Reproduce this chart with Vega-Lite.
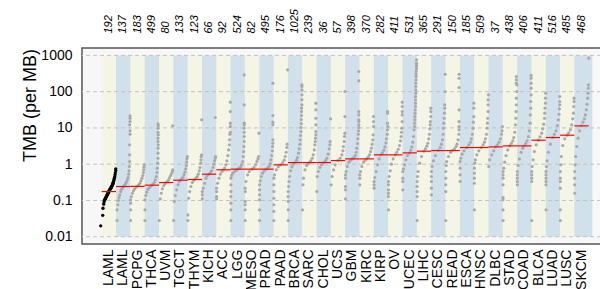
{
"$schema":"https://vega.github.io/schema/vega-lite/v6.json",
"width":526,"height":196,
"autosize":{"type":"none"},
"padding":{"left":82,"top":48,"right":-8,"bottom":45},
"background":"white",
"config":{"view":{"fill":"#f7f7f7","stroke":"#555555","strokeWidth":1.5},"font":"Liberation Sans"},
"datasets":{
"groups":[
{"g":0,"k":"LAML|192","m":0.176},{"g":1,"k":"LAML|137","m":0.242},{"g":2,"k":"PCPG|183","m":0.245},{"g":3,"k":"THCA|499","m":0.264},{"g":4,"k":"UVM|80","m":0.312},{"g":5,"k":"TGCT|133","m":0.362},{"g":6,"k":"THYM|123","m":0.378},{"g":7,"k":"KICH|66","m":0.53},{"g":8,"k":"ACC|92","m":0.70},{"g":9,"k":"LGG|524","m":0.73},{"g":10,"k":"MESO|82","m":0.73},{"g":11,"k":"PRAD|495","m":0.73},{"g":12,"k":"PAAD|176","m":0.958},{"g":13,"k":"BRCA|1025","m":1.11},{"g":14,"k":"SARC|239","m":1.11},{"g":15,"k":"CHOL|36","m":1.11},{"g":16,"k":"UCS|57","m":1.26},{"g":17,"k":"GBM|398","m":1.40},{"g":18,"k":"KIRC|370","m":1.40},{"g":19,"k":"KIRP|282","m":1.81},{"g":20,"k":"OV|411","m":1.81},{"g":21,"k":"UCEC|531","m":2.05},{"g":22,"k":"LIHC|365","m":2.28},{"g":23,"k":"CESC|291","m":2.38},{"g":24,"k":"READ|150","m":2.38},{"g":25,"k":"ESCA|185","m":2.88},{"g":26,"k":"HNSC|509","m":2.88},{"g":27,"k":"DLBC|37","m":3.0},{"g":28,"k":"STAD|438","m":3.2},{"g":29,"k":"COAD|406","m":3.2},{"g":30,"k":"BLCA|411","m":4.59},{"g":31,"k":"LUAD|516","m":5.44},{"g":32,"k":"LUSC|485","m":6.31},{"g":33,"k":"SKCM|468","m":11.4}
],
"decades":[{"t":0.01},{"t":0.1},{"t":1},{"t":10},{"t":100},{"t":1000}],
"points":[
{"g":0,"f":-0.07,"v":0.020},{"g":0,"f":0.07,"v":0.039},{"g":0,"f":0.09,"v":0.061},{"g":0,"f":0.14,"v":0.079},{"g":0,"f":0.16,"v":0.090},{"g":0,"f":0.19,"v":0.100},{"g":0,"f":0.21,"v":0.104},{"g":0,"f":0.23,"v":0.108},{"g":0,"f":0.26,"v":0.113},{"g":0,"f":0.28,"v":0.118},{"g":0,"f":0.30,"v":0.123},{"g":0,"f":0.33,"v":0.128},{"g":0,"f":0.35,"v":0.134},{"g":0,"f":0.37,"v":0.140},{"g":0,"f":0.40,"v":0.146},{"g":0,"f":0.42,"v":0.152},{"g":0,"f":0.44,"v":0.158},{"g":0,"f":0.47,"v":0.165},{"g":0,"f":0.49,"v":0.173},{"g":0,"f":0.51,"v":0.180},{"g":0,"f":0.53,"v":0.188},{"g":0,"f":0.56,"v":0.196},{"g":0,"f":0.58,"v":0.205},{"g":0,"f":0.60,"v":0.209},{"g":0,"f":0.63,"v":0.218},{"g":0,"f":0.65,"v":0.228},{"g":0,"f":0.67,"v":0.232},{"g":0,"f":0.70,"v":0.242},{"g":0,"f":0.72,"v":0.253},{"g":0,"f":0.74,"v":0.264},{"g":0,"f":0.77,"v":0.281},{"g":0,"f":0.79,"v":0.299},{"g":0,"f":0.81,"v":0.319},{"g":0,"f":0.84,"v":0.347},{"g":0,"f":0.86,"v":0.370},{"g":0,"f":0.88,"v":0.411},{"g":0,"f":0.91,"v":0.448},{"g":0,"f":0.93,"v":0.508},{"g":0,"f":0.95,"v":0.577},{"g":0,"f":0.98,"v":0.669},{"g":0,"f":0.98,"v":0.744},
{"g":1,"f":0.07,"v":0.028},{"g":1,"f":0.07,"v":0.055},{"g":1,"f":0.12,"v":0.076},{"g":1,"f":0.16,"v":0.100},{"g":1,"f":0.21,"v":0.120},{"g":1,"f":0.26,"v":0.143},{"g":1,"f":0.33,"v":0.176},{"g":1,"f":0.40,"v":0.205},{"g":1,"f":0.47,"v":0.228},{"g":1,"f":0.51,"v":0.242},{"g":1,"f":0.58,"v":0.258},{"g":1,"f":0.65,"v":0.281},{"g":1,"f":0.72,"v":0.319},{"g":1,"f":0.79,"v":0.370},{"g":1,"f":0.84,"v":0.429},{"g":1,"f":0.88,"v":0.530},{"g":1,"f":0.91,"v":0.655},{"g":1,"f":0.93,"v":0.863},{"g":1,"f":0.95,"v":1.18},{"g":1,"f":0.95,"v":1.81},{"g":1,"f":0.95,"v":3.41},{"g":1,"f":0.98,"v":6.71},{"g":1,"f":0.98,"v":8.30},{"g":1,"f":0.95,"v":12.2},{"g":1,"f":0.98,"v":15.0},{"g":1,"f":0.98,"v":18.5},{"g":1,"f":0.98,"v":21.5},
{"g":2,"f":0.02,"v":0.028},{"g":2,"f":0.02,"v":0.055},{"g":2,"f":0.02,"v":0.084},{"g":2,"f":0.02,"v":0.104},{"g":2,"f":0.07,"v":0.128},{"g":2,"f":0.14,"v":0.158},{"g":2,"f":0.21,"v":0.184},{"g":2,"f":0.30,"v":0.209},{"g":2,"f":0.40,"v":0.232},{"g":2,"f":0.49,"v":0.247},{"g":2,"f":0.58,"v":0.269},{"g":2,"f":0.67,"v":0.299},{"g":2,"f":0.74,"v":0.347},{"g":2,"f":0.81,"v":0.411},{"g":2,"f":0.86,"v":0.487},{"g":2,"f":0.91,"v":0.589},{"g":2,"f":0.93,"v":0.70},{"g":2,"f":0.95,"v":0.827},{"g":2,"f":0.98,"v":0.958},
{"g":3,"f":0.02,"v":0.028},{"g":3,"f":0.02,"v":0.055},{"g":3,"f":0.02,"v":0.104},{"g":3,"f":0.07,"v":0.137},{"g":3,"f":0.14,"v":0.169},{"g":3,"f":0.23,"v":0.205},{"g":3,"f":0.33,"v":0.228},{"g":3,"f":0.42,"v":0.247},{"g":3,"f":0.49,"v":0.264},{"g":3,"f":0.58,"v":0.281},{"g":3,"f":0.67,"v":0.312},{"g":3,"f":0.74,"v":0.370},{"g":3,"f":0.81,"v":0.457},{"g":3,"f":0.86,"v":0.589},{"g":3,"f":0.88,"v":0.776},{"g":3,"f":0.91,"v":1.07},{"g":3,"f":0.93,"v":1.46},{"g":3,"f":0.93,"v":2.01},{"g":3,"f":0.93,"v":2.76},{"g":3,"f":0.95,"v":3.41},{"g":3,"f":0.93,"v":4.22},{"g":3,"f":0.93,"v":5.21},{"g":3,"f":0.95,"v":6.44},{"g":3,"f":0.93,"v":7.62},{"g":3,"f":0.93,"v":9.84},{"g":3,"f":0.95,"v":11.6},{"g":3,"f":0.93,"v":12.9},
{"g":4,"f":0.02,"v":0.028},{"g":4,"f":0.09,"v":0.111},{"g":4,"f":0.16,"v":0.158},{"g":4,"f":0.23,"v":0.209},{"g":4,"f":0.33,"v":0.258},{"g":4,"f":0.42,"v":0.293},{"g":4,"f":0.49,"v":0.312},{"g":4,"f":0.58,"v":0.333},{"g":4,"f":0.67,"v":0.370},{"g":4,"f":0.74,"v":0.429},{"g":4,"f":0.81,"v":0.487},{"g":4,"f":0.88,"v":0.553},{"g":4,"f":0.93,"v":0.628},{"g":4,"f":0.95,"v":0.70},{"g":4,"f":0.95,"v":11.4},
{"g":5,"f":0.02,"v":0.028},{"g":5,"f":0.07,"v":0.094},{"g":5,"f":0.14,"v":0.137},{"g":5,"f":0.23,"v":0.196},{"g":5,"f":0.33,"v":0.269},{"g":5,"f":0.42,"v":0.333},{"g":5,"f":0.49,"v":0.362},{"g":5,"f":0.58,"v":0.394},{"g":5,"f":0.67,"v":0.429},{"g":5,"f":0.74,"v":0.508},{"g":5,"f":0.81,"v":0.602},{"g":5,"f":0.86,"v":0.744},{"g":5,"f":0.91,"v":0.919},{"g":5,"f":0.93,"v":1.14},{"g":5,"f":0.95,"v":1.40},{"g":5,"f":0.98,"v":1.63},
{"g":6,"f":0.02,"v":0.028},{"g":6,"f":0.02,"v":0.040},{"g":6,"f":0.07,"v":0.115},{"g":6,"f":0.14,"v":0.176},{"g":6,"f":0.23,"v":0.242},{"g":6,"f":0.33,"v":0.312},{"g":6,"f":0.42,"v":0.355},{"g":6,"f":0.49,"v":0.378},{"g":6,"f":0.58,"v":0.411},{"g":6,"f":0.67,"v":0.457},{"g":6,"f":0.74,"v":0.530},{"g":6,"f":0.81,"v":0.655},{"g":6,"f":0.86,"v":0.809},{"g":6,"f":0.91,"v":1.07},{"g":6,"f":0.93,"v":1.32},{"g":6,"f":0.95,"v":1.63},{"g":6,"f":0.98,"v":1.81},{"g":6,"f":0.98,"v":16.7},
{"g":7,"f":0.02,"v":0.111},{"g":7,"f":0.02,"v":0.143},{"g":7,"f":0.02,"v":0.176},{"g":7,"f":0.09,"v":0.218},{"g":7,"f":0.19,"v":0.299},{"g":7,"f":0.28,"v":0.411},{"g":7,"f":0.37,"v":0.487},{"g":7,"f":0.49,"v":0.530},{"g":7,"f":0.58,"v":0.577},{"g":7,"f":0.67,"v":0.655},{"g":7,"f":0.77,"v":0.809},{"g":7,"f":0.84,"v":1.0},{"g":7,"f":0.88,"v":1.24},{"g":7,"f":0.93,"v":1.46},{"g":7,"f":0.95,"v":1.63},{"g":7,"f":0.93,"v":19.4},
{"g":8,"f":0.02,"v":0.111},{"g":8,"f":0.02,"v":0.128},{"g":8,"f":0.02,"v":0.176},{"g":8,"f":0.02,"v":0.218},{"g":8,"f":0.09,"v":0.299},{"g":8,"f":0.19,"v":0.411},{"g":8,"f":0.28,"v":0.530},{"g":8,"f":0.40,"v":0.628},{"g":8,"f":0.49,"v":0.70},{"g":8,"f":0.58,"v":0.776},{"g":8,"f":0.67,"v":0.958},{"g":8,"f":0.74,"v":1.24},{"g":8,"f":0.81,"v":1.73},{"g":8,"f":0.86,"v":2.48},{"g":8,"f":0.91,"v":3.41},{"g":8,"f":0.93,"v":4.69},{"g":8,"f":0.95,"v":6.71},{"g":8,"f":0.98,"v":7.62},{"g":8,"f":0.98,"v":10.9},{"g":8,"f":0.98,"v":13.5},{"g":8,"f":0.98,"v":28.3},{"g":8,"f":0.98,"v":51.3},
{"g":9,"f":0.02,"v":0.028},{"g":9,"f":0.02,"v":0.055},{"g":9,"f":0.02,"v":0.084},{"g":9,"f":0.02,"v":0.128},{"g":9,"f":0.02,"v":0.176},{"g":9,"f":0.02,"v":0.269},{"g":9,"f":0.02,"v":0.411},{"g":9,"f":0.07,"v":0.487},{"g":9,"f":0.16,"v":0.565},{"g":9,"f":0.28,"v":0.628},{"g":9,"f":0.40,"v":0.684},{"g":9,"f":0.49,"v":0.73},{"g":9,"f":0.60,"v":0.776},{"g":9,"f":0.70,"v":0.844},{"g":9,"f":0.77,"v":0.958},{"g":9,"f":0.84,"v":1.18},{"g":9,"f":0.88,"v":1.63},{"g":9,"f":0.91,"v":2.23},{"g":9,"f":0.93,"v":3.07},{"g":9,"f":0.95,"v":4.22},{"g":9,"f":0.95,"v":5.79},{"g":9,"f":0.95,"v":7.62},{"g":9,"f":0.95,"v":9.84},{"g":9,"f":0.95,"v":12.2},{"g":9,"f":0.95,"v":13.5},{"g":9,"f":0.95,"v":43.3},{"g":9,"f":0.95,"v":290},
{"g":10,"f":0.02,"v":0.028},{"g":10,"f":0.02,"v":0.055},{"g":10,"f":0.02,"v":0.076},{"g":10,"f":0.02,"v":0.094},{"g":10,"f":0.02,"v":0.176},{"g":10,"f":0.02,"v":0.218},{"g":10,"f":0.07,"v":0.333},{"g":10,"f":0.19,"v":0.508},{"g":10,"f":0.30,"v":0.628},{"g":10,"f":0.49,"v":0.73},{"g":10,"f":0.63,"v":0.809},{"g":10,"f":0.74,"v":0.958},{"g":10,"f":0.84,"v":1.18},{"g":10,"f":0.91,"v":1.40},{"g":10,"f":0.95,"v":1.63},{"g":10,"f":0.98,"v":7.16},
{"g":11,"f":0.02,"v":0.028},{"g":11,"f":0.02,"v":0.055},{"g":11,"f":0.02,"v":0.104},{"g":11,"f":0.02,"v":0.143},{"g":11,"f":0.02,"v":0.196},{"g":11,"f":0.02,"v":0.269},{"g":11,"f":0.07,"v":0.347},{"g":11,"f":0.14,"v":0.457},{"g":11,"f":0.23,"v":0.565},{"g":11,"f":0.35,"v":0.655},{"g":11,"f":0.49,"v":0.73},{"g":11,"f":0.60,"v":0.792},{"g":11,"f":0.70,"v":0.881},{"g":11,"f":0.77,"v":1.04},{"g":11,"f":0.81,"v":1.32},{"g":11,"f":0.86,"v":1.73},{"g":11,"f":0.91,"v":2.33},{"g":11,"f":0.93,"v":3.07},{"g":11,"f":0.95,"v":3.79},{"g":11,"f":0.95,"v":4.69},{"g":11,"f":0.95,"v":12.2},{"g":11,"f":0.95,"v":14.4},{"g":11,"f":0.95,"v":22.0},{"g":11,"f":0.95,"v":171},
{"g":12,"f":0.02,"v":0.028},{"g":12,"f":0.02,"v":0.050},{"g":12,"f":0.02,"v":0.076},{"g":12,"f":0.02,"v":0.115},{"g":12,"f":0.02,"v":0.176},{"g":12,"f":0.02,"v":0.269},{"g":12,"f":0.02,"v":0.411},{"g":12,"f":0.07,"v":0.508},{"g":12,"f":0.19,"v":0.70},{"g":12,"f":0.33,"v":0.844},{"g":12,"f":0.49,"v":0.958},{"g":12,"f":0.63,"v":1.09},{"g":12,"f":0.74,"v":1.29},{"g":12,"f":0.81,"v":1.63},{"g":12,"f":0.88,"v":2.14},{"g":12,"f":0.93,"v":2.88},{"g":12,"f":0.95,"v":3.56},{"g":12,"f":0.98,"v":399},
{"g":13,"f":0.02,"v":0.028},{"g":13,"f":0.02,"v":0.055},{"g":13,"f":0.02,"v":0.094},{"g":13,"f":0.02,"v":0.128},{"g":13,"f":0.02,"v":0.176},{"g":13,"f":0.05,"v":0.242},{"g":13,"f":0.07,"v":0.333},{"g":13,"f":0.12,"v":0.457},{"g":13,"f":0.19,"v":0.655},{"g":13,"f":0.28,"v":0.844},{"g":13,"f":0.37,"v":1.0},{"g":13,"f":0.49,"v":1.11},{"g":13,"f":0.60,"v":1.29},{"g":13,"f":0.67,"v":1.53},{"g":13,"f":0.74,"v":2.01},{"g":13,"f":0.79,"v":2.65},{"g":13,"f":0.84,"v":3.56},{"g":13,"f":0.86,"v":4.69},{"g":13,"f":0.88,"v":6.17},{"g":13,"f":0.91,"v":7.96},{"g":13,"f":0.91,"v":10.3},{"g":13,"f":0.93,"v":13.2},{"g":13,"f":0.93,"v":17.1},{"g":13,"f":0.95,"v":22.0},{"g":13,"f":0.95,"v":28.3},{"g":13,"f":0.95,"v":35.0},{"g":13,"f":0.98,"v":43.3},{"g":13,"f":0.98,"v":59.4},{"g":13,"f":0.98,"v":81.6},{"g":13,"f":0.98,"v":112},{"g":13,"f":0.98,"v":139},{"g":13,"f":0.98,"v":154},
{"g":14,"f":0.02,"v":0.055},{"g":14,"f":0.05,"v":0.269},{"g":14,"f":0.09,"v":0.411},{"g":14,"f":0.19,"v":0.70},{"g":14,"f":0.30,"v":0.919},{"g":14,"f":0.40,"v":1.02},{"g":14,"f":0.49,"v":1.11},{"g":14,"f":0.60,"v":1.24},{"g":14,"f":0.70,"v":1.46},{"g":14,"f":0.77,"v":1.81},{"g":14,"f":0.84,"v":2.48},{"g":14,"f":0.88,"v":3.41},{"g":14,"f":0.91,"v":4.22},{"g":14,"f":0.93,"v":5.21},{"g":14,"f":0.95,"v":6.44},{"g":14,"f":0.95,"v":7.96},{"g":14,"f":0.95,"v":12.2},{"g":14,"f":0.95,"v":18.5},{"g":14,"f":0.95,"v":31.5},{"g":14,"f":0.95,"v":48.1},
{"g":15,"f":0.02,"v":0.176},{"g":15,"f":0.05,"v":0.457},{"g":15,"f":0.12,"v":0.628},{"g":15,"f":0.23,"v":0.809},{"g":15,"f":0.35,"v":0.958},{"g":15,"f":0.49,"v":1.11},{"g":15,"f":0.63,"v":1.26},{"g":15,"f":0.72,"v":1.46},{"g":15,"f":0.81,"v":1.89},{"g":15,"f":0.88,"v":2.65},{"g":15,"f":0.93,"v":3.41},{"g":15,"f":0.95,"v":4.22},{"g":15,"f":0.98,"v":17.8},
{"g":16,"f":0.02,"v":0.269},{"g":16,"f":0.09,"v":0.457},{"g":16,"f":0.19,"v":0.70},{"g":16,"f":0.30,"v":0.958},{"g":16,"f":0.49,"v":1.26},{"g":16,"f":0.65,"v":1.46},{"g":16,"f":0.77,"v":1.81},{"g":16,"f":0.84,"v":2.33},{"g":16,"f":0.88,"v":3.07},{"g":16,"f":0.93,"v":4.22},{"g":16,"f":0.95,"v":5.79},{"g":16,"f":0.98,"v":7.16},{"g":16,"f":0.98,"v":20.6},{"g":16,"f":0.98,"v":101},
{"g":17,"f":0.02,"v":0.111},{"g":17,"f":0.02,"v":0.196},{"g":17,"f":0.02,"v":0.242},{"g":17,"f":0.02,"v":0.411},{"g":17,"f":0.02,"v":0.508},{"g":17,"f":0.07,"v":0.628},{"g":17,"f":0.14,"v":0.863},{"g":17,"f":0.26,"v":1.14},{"g":17,"f":0.37,"v":1.29},{"g":17,"f":0.49,"v":1.40},{"g":17,"f":0.60,"v":1.53},{"g":17,"f":0.70,"v":1.73},{"g":17,"f":0.77,"v":2.14},{"g":17,"f":0.81,"v":2.76},{"g":17,"f":0.86,"v":3.71},{"g":17,"f":0.88,"v":5.00},{"g":17,"f":0.91,"v":6.71},{"g":17,"f":0.93,"v":8.30},{"g":17,"f":0.95,"v":10.3},{"g":17,"f":0.95,"v":12.2},{"g":17,"f":0.95,"v":15.0},{"g":17,"f":0.95,"v":16.7},{"g":17,"f":0.95,"v":22.9},{"g":17,"f":0.95,"v":28.3},{"g":17,"f":0.95,"v":199},{"g":17,"f":0.95,"v":359},
{"g":18,"f":0.02,"v":0.269},{"g":18,"f":0.02,"v":0.411},{"g":18,"f":0.02,"v":0.508},{"g":18,"f":0.07,"v":0.628},{"g":18,"f":0.16,"v":0.863},{"g":18,"f":0.28,"v":1.14},{"g":18,"f":0.40,"v":1.29},{"g":18,"f":0.49,"v":1.40},{"g":18,"f":0.60,"v":1.56},{"g":18,"f":0.70,"v":1.81},{"g":18,"f":0.77,"v":2.23},{"g":18,"f":0.84,"v":2.76},{"g":18,"f":0.88,"v":3.56},{"g":18,"f":0.93,"v":4.69},{"g":18,"f":0.95,"v":6.44},{"g":18,"f":0.98,"v":10.9},{"g":18,"f":0.98,"v":15.0},{"g":18,"f":0.98,"v":20.6},
{"g":19,"f":0.02,"v":0.218},{"g":19,"f":0.02,"v":0.269},{"g":19,"f":0.02,"v":0.333},{"g":19,"f":0.07,"v":0.429},{"g":19,"f":0.16,"v":0.628},{"g":19,"f":0.26,"v":0.958},{"g":19,"f":0.37,"v":1.40},{"g":19,"f":0.49,"v":1.81},{"g":19,"f":0.60,"v":2.05},{"g":19,"f":0.70,"v":2.43},{"g":19,"f":0.77,"v":3.00},{"g":19,"f":0.84,"v":3.87},{"g":19,"f":0.88,"v":5.00},{"g":19,"f":0.93,"v":6.71},{"g":19,"f":0.95,"v":8.85},{"g":19,"f":0.98,"v":10.9},{"g":19,"f":0.95,"v":13.5},{"g":19,"f":0.95,"v":25.5},{"g":19,"f":0.95,"v":28.3},
{"g":20,"f":0.02,"v":0.055},{"g":20,"f":0.02,"v":0.128},{"g":20,"f":0.02,"v":0.158},{"g":20,"f":0.02,"v":0.196},{"g":20,"f":0.02,"v":0.269},{"g":20,"f":0.02,"v":0.333},{"g":20,"f":0.07,"v":0.457},{"g":20,"f":0.14,"v":0.655},{"g":20,"f":0.23,"v":1.0},{"g":20,"f":0.35,"v":1.40},{"g":20,"f":0.49,"v":1.81},{"g":20,"f":0.60,"v":2.14},{"g":20,"f":0.70,"v":2.59},{"g":20,"f":0.79,"v":3.27},{"g":20,"f":0.86,"v":4.40},{"g":20,"f":0.91,"v":5.79},{"g":20,"f":0.93,"v":7.62},{"g":20,"f":0.95,"v":9.84},{"g":20,"f":0.98,"v":15.0},{"g":20,"f":0.98,"v":22.9},{"g":20,"f":0.98,"v":28.3},{"g":20,"f":0.98,"v":38.9},{"g":20,"f":0.98,"v":51.3},
{"g":21,"f":0.02,"v":0.196},{"g":21,"f":0.02,"v":0.333},{"g":21,"f":0.02,"v":0.411},{"g":21,"f":0.02,"v":0.628},{"g":21,"f":0.07,"v":0.744},{"g":21,"f":0.14,"v":0.958},{"g":21,"f":0.23,"v":1.32},{"g":21,"f":0.35,"v":1.73},{"g":21,"f":0.49,"v":2.05},{"g":21,"f":0.58,"v":2.43},{"g":21,"f":0.65,"v":3.00},{"g":21,"f":0.72,"v":4.04},{"g":21,"f":0.77,"v":5.79},{"g":21,"f":0.81,"v":8.85},{"g":21,"f":0.84,"v":10.9},{"g":21,"f":0.84,"v":13.5},{"g":21,"f":0.86,"v":16.7},{"g":21,"f":0.86,"v":20.6},{"g":21,"f":0.88,"v":25.5},{"g":21,"f":0.88,"v":31.5},{"g":21,"f":0.91,"v":38.9},{"g":21,"f":0.91,"v":48.1},{"g":21,"f":0.91,"v":59.4},{"g":21,"f":0.91,"v":73.4},{"g":21,"f":0.93,"v":90.7},{"g":21,"f":0.93,"v":112},{"g":21,"f":0.93,"v":139},{"g":21,"f":0.93,"v":171},{"g":21,"f":0.95,"v":211},{"g":21,"f":0.95,"v":261},{"g":21,"f":0.95,"v":303},{"g":21,"f":0.95,"v":359},{"g":21,"f":0.98,"v":425},{"g":21,"f":0.98,"v":493},{"g":21,"f":0.98,"v":548},{"g":21,"f":0.98,"v":610},{"g":21,"f":0.98,"v":753},
{"g":22,"f":0.02,"v":0.028},{"g":22,"f":0.02,"v":0.128},{"g":22,"f":0.02,"v":0.176},{"g":22,"f":0.02,"v":0.242},{"g":22,"f":0.02,"v":0.333},{"g":22,"f":0.05,"v":0.457},{"g":22,"f":0.09,"v":0.628},{"g":22,"f":0.19,"v":1.07},{"g":22,"f":0.33,"v":1.63},{"g":22,"f":0.49,"v":2.28},{"g":22,"f":0.60,"v":2.65},{"g":22,"f":0.70,"v":3.14},{"g":22,"f":0.77,"v":3.79},{"g":22,"f":0.84,"v":5.00},{"g":22,"f":0.88,"v":6.71},{"g":22,"f":0.91,"v":9.42},{"g":22,"f":0.93,"v":12.2},{"g":22,"f":0.95,"v":15.0},{"g":22,"f":0.98,"v":20.6},{"g":22,"f":0.98,"v":28.3},{"g":22,"f":0.98,"v":35.0},
{"g":23,"f":0.02,"v":0.143},{"g":23,"f":0.02,"v":0.218},{"g":23,"f":0.02,"v":0.333},{"g":23,"f":0.02,"v":0.457},{"g":23,"f":0.02,"v":0.628},{"g":23,"f":0.07,"v":0.863},{"g":23,"f":0.16,"v":1.24},{"g":23,"f":0.30,"v":1.73},{"g":23,"f":0.49,"v":2.38},{"g":23,"f":0.63,"v":2.88},{"g":23,"f":0.72,"v":3.56},{"g":23,"f":0.79,"v":4.69},{"g":23,"f":0.84,"v":6.71},{"g":23,"f":0.86,"v":9.84},{"g":23,"f":0.88,"v":13.5},{"g":23,"f":0.91,"v":18.5},{"g":23,"f":0.93,"v":25.5},{"g":23,"f":0.95,"v":35.0},{"g":23,"f":0.95,"v":43.3},{"g":23,"f":0.98,"v":101},{"g":23,"f":0.98,"v":303},
{"g":24,"f":0.02,"v":0.028},{"g":24,"f":0.02,"v":0.176},{"g":24,"f":0.02,"v":0.269},{"g":24,"f":0.02,"v":0.411},{"g":24,"f":0.02,"v":0.628},{"g":24,"f":0.05,"v":0.919},{"g":24,"f":0.09,"v":1.18},{"g":24,"f":0.21,"v":1.63},{"g":24,"f":0.35,"v":2.14},{"g":24,"f":0.49,"v":2.38},{"g":24,"f":0.63,"v":2.65},{"g":24,"f":0.74,"v":3.07},{"g":24,"f":0.81,"v":3.56},{"g":24,"f":0.88,"v":4.69},{"g":24,"f":0.93,"v":6.71},{"g":24,"f":0.95,"v":8.85},{"g":24,"f":0.95,"v":10.9},{"g":24,"f":0.95,"v":15.0},{"g":24,"f":0.95,"v":31.5},{"g":24,"f":0.95,"v":130},{"g":24,"f":0.95,"v":235},{"g":24,"f":0.95,"v":303},
{"g":25,"f":0.02,"v":0.333},{"g":25,"f":0.02,"v":0.508},{"g":25,"f":0.02,"v":0.776},{"g":25,"f":0.02,"v":1.18},{"g":25,"f":0.07,"v":1.46},{"g":25,"f":0.16,"v":1.89},{"g":25,"f":0.30,"v":2.33},{"g":25,"f":0.49,"v":2.88},{"g":25,"f":0.63,"v":3.41},{"g":25,"f":0.74,"v":4.04},{"g":25,"f":0.81,"v":5.00},{"g":25,"f":0.88,"v":6.71},{"g":25,"f":0.93,"v":9.84},{"g":25,"f":0.95,"v":14.4},{"g":25,"f":0.98,"v":20.6},{"g":25,"f":0.98,"v":35.0},{"g":25,"f":0.98,"v":48.1},
{"g":26,"f":0.02,"v":0.055},{"g":26,"f":0.02,"v":0.299},{"g":26,"f":0.02,"v":0.411},{"g":26,"f":0.02,"v":0.565},{"g":26,"f":0.02,"v":0.776},{"g":26,"f":0.05,"v":1.07},{"g":26,"f":0.09,"v":1.32},{"g":26,"f":0.19,"v":1.81},{"g":26,"f":0.33,"v":2.33},{"g":26,"f":0.49,"v":2.88},{"g":26,"f":0.63,"v":3.41},{"g":26,"f":0.72,"v":4.04},{"g":26,"f":0.79,"v":5.00},{"g":26,"f":0.86,"v":6.71},{"g":26,"f":0.91,"v":9.84},{"g":26,"f":0.93,"v":13.5},{"g":26,"f":0.95,"v":18.5},{"g":26,"f":0.98,"v":28.3},{"g":26,"f":0.98,"v":43.3},{"g":26,"f":0.98,"v":59.4},{"g":26,"f":1.0,"v":81.6},
{"g":27,"f":0.02,"v":0.863},{"g":27,"f":0.09,"v":1.32},{"g":27,"f":0.23,"v":1.81},{"g":27,"f":0.37,"v":2.33},{"g":27,"f":0.49,"v":3.00},{"g":27,"f":0.63,"v":3.41},{"g":27,"f":0.74,"v":4.04},{"g":27,"f":0.84,"v":5.00},{"g":27,"f":0.91,"v":6.71},{"g":27,"f":0.95,"v":8.30},{"g":27,"f":0.98,"v":10.9},
{"g":28,"f":0.02,"v":0.028},{"g":28,"f":0.02,"v":0.055},{"g":28,"f":0.02,"v":0.104},{"g":28,"f":0.02,"v":0.120},{"g":28,"f":0.02,"v":0.269},{"g":28,"f":0.02,"v":0.411},{"g":28,"f":0.02,"v":0.508},{"g":28,"f":0.02,"v":0.628},{"g":28,"f":0.07,"v":0.776},{"g":28,"f":0.14,"v":1.14},{"g":28,"f":0.23,"v":1.73},{"g":28,"f":0.35,"v":2.48},{"g":28,"f":0.49,"v":3.20},{"g":28,"f":0.60,"v":3.71},{"g":28,"f":0.70,"v":4.40},{"g":28,"f":0.77,"v":5.44},{"g":28,"f":0.84,"v":7.62},{"g":28,"f":0.88,"v":12.2},{"g":28,"f":0.91,"v":18.5},{"g":28,"f":0.93,"v":28.3},{"g":28,"f":0.95,"v":43.3},{"g":28,"f":0.95,"v":66.1},{"g":28,"f":0.98,"v":101},{"g":28,"f":0.98,"v":154},{"g":28,"f":0.95,"v":171},{"g":28,"f":0.95,"v":211},{"g":28,"f":0.95,"v":261},
{"g":29,"f":0.02,"v":0.269},{"g":29,"f":0.02,"v":0.333},{"g":29,"f":0.02,"v":0.411},{"g":29,"f":0.02,"v":0.508},{"g":29,"f":0.02,"v":0.628},{"g":29,"f":0.07,"v":0.919},{"g":29,"f":0.16,"v":1.40},{"g":29,"f":0.28,"v":2.14},{"g":29,"f":0.40,"v":2.76},{"g":29,"f":0.49,"v":3.20},{"g":29,"f":0.60,"v":3.71},{"g":29,"f":0.70,"v":4.40},{"g":29,"f":0.79,"v":5.79},{"g":29,"f":0.86,"v":8.30},{"g":29,"f":0.91,"v":13.5},{"g":29,"f":0.93,"v":22.9},{"g":29,"f":0.95,"v":35.0},{"g":29,"f":0.95,"v":53.5},{"g":29,"f":0.98,"v":81.6},{"g":29,"f":0.98,"v":125},{"g":29,"f":0.98,"v":171},{"g":29,"f":0.98,"v":235},{"g":29,"f":0.98,"v":280},
{"g":30,"f":0.02,"v":0.028},{"g":30,"f":0.02,"v":0.333},{"g":30,"f":0.02,"v":0.411},{"g":30,"f":0.02,"v":0.508},{"g":30,"f":0.02,"v":0.628},{"g":30,"f":0.05,"v":0.863},{"g":30,"f":0.12,"v":1.32},{"g":30,"f":0.21,"v":2.23},{"g":30,"f":0.33,"v":3.41},{"g":30,"f":0.49,"v":4.59},{"g":30,"f":0.60,"v":5.67},{"g":30,"f":0.72,"v":7.16},{"g":30,"f":0.79,"v":9.42},{"g":30,"f":0.86,"v":12.7},{"g":30,"f":0.91,"v":18.5},{"g":30,"f":0.93,"v":25.5},{"g":30,"f":0.95,"v":35.0},{"g":30,"f":0.98,"v":48.1},{"g":30,"f":0.98,"v":66.1},{"g":30,"f":1.0,"v":90.7},
{"g":31,"f":0.02,"v":0.055},{"g":31,"f":0.02,"v":0.269},{"g":31,"f":0.02,"v":0.333},{"g":31,"f":0.02,"v":0.411},{"g":31,"f":0.02,"v":0.508},{"g":31,"f":0.02,"v":0.628},{"g":31,"f":0.05,"v":0.863},{"g":31,"f":0.09,"v":1.24},{"g":31,"f":0.19,"v":2.14},{"g":31,"f":0.33,"v":3.56},{"g":31,"f":0.49,"v":5.44},{"g":31,"f":0.60,"v":6.71},{"g":31,"f":0.72,"v":8.30},{"g":31,"f":0.81,"v":11.6},{"g":31,"f":0.88,"v":16.7},{"g":31,"f":0.93,"v":23.9},{"g":31,"f":0.95,"v":33.6},{"g":31,"f":0.98,"v":43.3},{"g":31,"f":0.98,"v":53.5},{"g":31,"f":0.98,"v":73.4},
{"g":32,"f":0.02,"v":0.028},{"g":32,"f":0.02,"v":0.055},{"g":32,"f":0.02,"v":0.218},{"g":32,"f":0.02,"v":0.333},{"g":32,"f":0.02,"v":0.411},{"g":32,"f":0.02,"v":0.628},{"g":32,"f":0.05,"v":0.958},{"g":32,"f":0.09,"v":1.63},{"g":32,"f":0.19,"v":3.27},{"g":32,"f":0.33,"v":5.00},{"g":32,"f":0.49,"v":6.31},{"g":32,"f":0.60,"v":7.31},{"g":32,"f":0.72,"v":8.85},{"g":32,"f":0.81,"v":12.2},{"g":32,"f":0.88,"v":17.8},{"g":32,"f":0.93,"v":25.5},{"g":32,"f":0.95,"v":38.9},{"g":32,"f":0.98,"v":53.5},{"g":32,"f":0.98,"v":66.1},
{"g":33,"f":0.02,"v":0.158},{"g":33,"f":0.02,"v":0.269},{"g":33,"f":0.02,"v":0.411},{"g":33,"f":0.02,"v":0.628},{"g":33,"f":0.05,"v":0.958},{"g":33,"f":0.09,"v":1.63},{"g":33,"f":0.16,"v":3.07},{"g":33,"f":0.26,"v":5.21},{"g":33,"f":0.37,"v":8.30},{"g":33,"f":0.49,"v":11.4},{"g":33,"f":0.60,"v":14.4},{"g":33,"f":0.70,"v":17.8},{"g":33,"f":0.77,"v":22.9},{"g":33,"f":0.84,"v":31.5},{"g":33,"f":0.88,"v":45.1},{"g":33,"f":0.93,"v":66.1},{"g":33,"f":0.95,"v":90.7},{"g":33,"f":0.98,"v":125},{"g":33,"f":0.98,"v":154},{"g":33,"f":1.0,"v":837}
]
},
"layer":[
{"data":{"name":"groups"},
 "mark":{"type":"rect"},
 "encoding":{
  "x":{"field":"k","type":"nominal",
   "scale":{"domain":["LAML|192","LAML|137","PCPG|183","THCA|499","UVM|80","TGCT|133","THYM|123","KICH|66","ACC|92","LGG|524","MESO|82","PRAD|495","PAAD|176","BRCA|1025","SARC|239","CHOL|36","UCS|57","GBM|398","KIRC|370","KIRP|282","OV|411","UCEC|531","LIHC|365","CESC|291","READ|150","ESCA|185","HNSC|509","DLBC|37","STAD|438","COAD|406","BLCA|411","LUAD|516","LUSC|485","SKCM|468"],"range":[19.7,506.7],"paddingInner":0,"paddingOuter":0},
   "axis":{"orient":"bottom","title":null,"labelExpr":"split(datum.value,'|')[0]","labelAngle":-90,"labelFontSize":14,"labelColor":"#000000","ticks":false,"domain":false,"labelPadding":5,"labelOverlap":false}},
  "y":{"datum":0.01,"type":"quantitative",
   "scale":{"type":"log","domain":[0.0063,1600],"nice":false},
   "axis":{"title":"TMB (per MB)","values":[0.01,0.1,1,10,100,1000],"format":"~g","grid":false,"ticks":false,"domain":false,"labelFontSize":14,"labelColor":"#000000","labelPadding":10,"titleFontSize":18,"titleFontWeight":"normal","titleColor":"#000000","titleX":-47,"titleY":57,"titleAngle":-90,"titleAlign":"center","titleBaseline":"alphabetic"}},
  "y2":{"datum":1000},
  "fill":{"field":"k","type":"nominal","legend":null,
   "scale":{"domain":["LAML|192","LAML|137","PCPG|183","THCA|499","UVM|80","TGCT|133","THYM|123","KICH|66","ACC|92","LGG|524","MESO|82","PRAD|495","PAAD|176","BRCA|1025","SARC|239","CHOL|36","UCS|57","GBM|398","KIRC|370","KIRP|282","OV|411","UCEC|531","LIHC|365","CESC|291","READ|150","ESCA|185","HNSC|509","DLBC|37","STAD|438","COAD|406","BLCA|411","LUAD|516","LUSC|485","SKCM|468"],
    "range":["#f5f5e5","#d1e1ec","#f5f5e5","#d1e1ec","#f5f5e5","#d1e1ec","#f5f5e5","#d1e1ec","#f5f5e5","#d1e1ec","#f5f5e5","#d1e1ec","#f5f5e5","#d1e1ec","#f5f5e5","#d1e1ec","#f5f5e5","#d1e1ec","#f5f5e5","#d1e1ec","#f5f5e5","#d1e1ec","#f5f5e5","#d1e1ec","#f5f5e5","#d1e1ec","#f5f5e5","#d1e1ec","#f5f5e5","#d1e1ec","#f5f5e5","#d1e1ec","#f5f5e5","#d1e1ec"]}}
 }},
{"data":{"name":"decades"},
 "mark":{"type":"rule","color":"#c2c2c2","strokeDash":[4,3],"strokeWidth":1},
 "encoding":{"y":{"field":"t","type":"quantitative"}}},
{"data":{"name":"points"},
 "transform":[{"lookup":"g","from":{"data":{"name":"groups"},"key":"g","fields":["k"]}}],
 "mark":{"type":"circle","opacity":1},
 "encoding":{
  "x":{"field":"k","type":"nominal","axis":null},
  "xOffset":{"field":"f","type":"quantitative","scale":{"domain":[0,1],"range":[0,14.32]}},
  "y":{"field":"v","type":"quantitative"},
  "color":{"condition":{"test":"datum.g===0","value":"#000000"},"value":"#a9a9a9"},
  "size":{"condition":{"test":"datum.g===0","value":11},"value":10}
 }},
{"data":{"name":"groups"},
 "mark":{"type":"tick","color":"#ff0000","thickness":1.2,"size":14.3,"opacity":1},
 "encoding":{
  "x":{"field":"k","type":"nominal",
   "axis":{"orient":"top","title":null,"labelExpr":"split(datum.value,'|')[1]","labelAngle":-90,"labelFontSize":11,"labelFontStyle":"italic","labelColor":"#000000","ticks":false,"domain":false,"labelPadding":15,"labelOverlap":false}},
  "y":{"field":"m","type":"quantitative"}
 }}
],
"resolve":{"axis":{"x":"independent"}}
}
